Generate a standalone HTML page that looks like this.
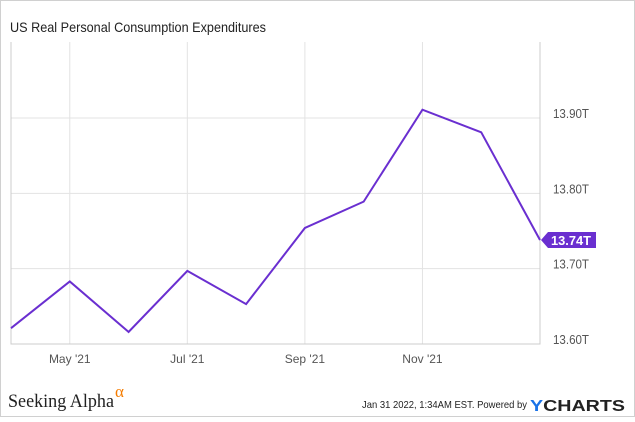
<!DOCTYPE html>
<html><head><meta charset="utf-8"><style>
html,body{margin:0;padding:0;background:#fff;}
body{width:635px;height:417px;overflow:hidden;font-family:"Liberation Sans",sans-serif;}
</style></head><body>
<svg width="635" height="417" xmlns="http://www.w3.org/2000/svg">
<rect x="0.5" y="0.5" width="634" height="416" fill="#fff" stroke="#d0d0d0"/>
<text x="10" y="32" font-size="14" fill="#222" textLength="256" lengthAdjust="spacingAndGlyphs">US Real Personal Consumption Expenditures</text>
<g id="grid"></g>
<g id="marks"></g>
<text x="8" y="407" font-family="Liberation Serif,serif" font-size="19" fill="#222" textLength="106" lengthAdjust="spacingAndGlyphs">Seeking Alpha</text>
<text x="115" y="397" font-family="Liberation Serif,serif" font-size="17" fill="#f57c00">α</text>
<text x="362" y="408" font-size="10.5" fill="#222" textLength="165" lengthAdjust="spacingAndGlyphs">Jan 31 2022, 1:34AM EST.  Powered by</text>
<text x="530" y="411" font-size="16" font-weight="bold" fill="#222" textLength="95" lengthAdjust="spacingAndGlyphs"><tspan fill="#1a73e8">Y</tspan>CHARTS</text>
</svg>
<script>
const months=["Apr","May","Jun","Jul","Aug","Sep","Oct","Nov","Dec","Jan"];
const values=[13.621,13.683,13.616,13.697,13.653,13.754,13.789,13.911,13.881,13.738];
const yTicks=[13.60,13.70,13.80,13.90];
const yTickLabels=["13.60T","13.70T","13.80T","13.90T"];
const xTickIdx=[1,3,5,7];
const xTickLabels=["May '21","Jul '21","Sep '21","Nov '21"];
const lastLabel="13.74T";
const NS="http://www.w3.org/2000/svg";
const L=11,R=540,T=42,B=344;
const x=i=>L+(R-L)*i/(months.length-1);
const y=v=>B-(v-13.60)*(B-118)/0.30;
const grid=document.getElementById('grid'),marks=document.getElementById('marks');
function mk(tag,attrs,parent){const e=document.createElementNS(NS,tag);for(const k in attrs)e.setAttribute(k,attrs[k]);parent.appendChild(e);return e;}
yTicks.forEach((v,i)=>{
  if(i>0){const g=mk('line',{x1:L,x2:R,y1:y(v),y2:y(v),stroke:'#e3e3e3'},grid);
  
  }
  const t=mk('text',{x:553,y:y(v),'font-size':12.5,fill:'#555',textLength:36,lengthAdjust:'spacingAndGlyphs'},grid);t.textContent=yTickLabels[i];
  
  
});
xTickIdx.forEach((idx,i)=>{
  const g=mk('line',{x1:x(idx),x2:x(idx),y1:T,y2:B,stroke:'#e3e3e3'},grid);
  
  
  const t=mk('text',{x:x(idx),y:363,'font-size':12,fill:'#555','text-anchor':'middle'},grid);t.textContent=xTickLabels[i];
  
  
});
const fr=mk('path',{d:`M${L} ${T}V${B}H${R}V${T}`,fill:'none',stroke:'#cccccc'},grid);


const line=mk('polyline',{points:values.map((v,i)=>x(i)+','+y(v)).join(' '),fill:'none',stroke:'#6a2fd0','stroke-width':2,'stroke-linejoin':'miter'},marks);


const ly=y(values[values.length-1]);
const tag=mk('path',{d:`M${R+1} ${ly}L${R+8} ${ly-8}H${R+56}V${ly+8}H${R+8}Z`,fill:'#6a2fd0'},marks);


const tt=mk('text',{x:R+11,y:ly+5,'font-size':12.5,'font-weight':'bold',fill:'#fff',textLength:40,lengthAdjust:'spacingAndGlyphs'},marks);tt.textContent=lastLabel;


</script>
</body></html>
